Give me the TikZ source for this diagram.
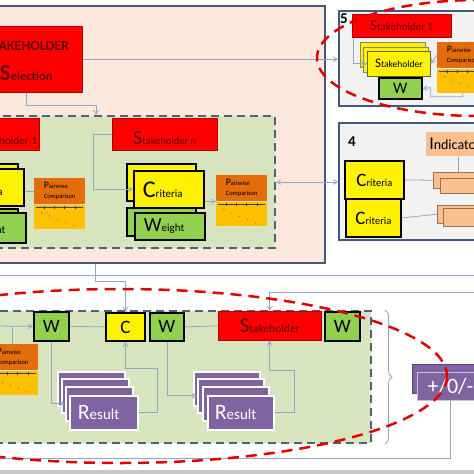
\documentclass[tikz,border=0pt]{standalone}
\usepackage{pgf}
\usepackage{tikz}
\usepackage{fontspec}
\setmainfont{Carlito}
\usetikzlibrary{calc,shadows}
\usetikzlibrary{arrows,backgrounds,shapes}
\usetikzlibrary{decorations.pathreplacing}

\definecolor{peach}{RGB}{252,233,220}
\definecolor{frame}{RGB}{68,88,125}
\definecolor{sage}{RGB}{215,228,189}
\definecolor{dashblue}{RGB}{79,96,121}
\definecolor{lightgrey}{RGB}{242,242,242}
\definecolor{wire}{RGB}{143,168,200}
\definecolor{leaf}{RGB}{146,208,80}
\definecolor{rust}{RGB}{228,108,10}
\definecolor{gold}{RGB}{255,192,0}
\definecolor{apricot}{RGB}{250,192,144}
\definecolor{plum}{RGB}{128,100,162}
\definecolor{maroon}{RGB}{100,0,0}

\newcommand{\fsz}[1]{\fontsize{#1}{\the\baselineskip}\selectfont}

\tikzset{
  box/.style={rectangle,anchor=north west,inner sep=0pt},
  redbox/.style={box,fill=red,draw=red!70!black,line width=0.5pt,text=maroon},
  ycard/.style={box,fill=yellow,draw=black,line width=1.8pt},
  ythin/.style={box,fill=yellow,draw=black!50!yellow,line width=0.6pt},
  gcard/.style={box,fill=leaf,draw=black,line width=1.8pt},
  lefttext/.style={text width=52pt,align=left},
  pwbox/.style={box,fill=rust,minimum height=26pt,align=left,font=\fontsize{6.5}{10}\selectfont},
  chart/.style={box,fill=gold,minimum height=24pt},
  rcard/.style={box,fill=plum,draw=white,line width=1.5pt,text=white,
    drop shadow={opacity=0.25,shadow xshift=1pt,shadow yshift=-1pt}},
  panel/.style={box,fill=lightgrey,draw=frame,line width=1.5pt},
  dashbox/.style={box,fill=sage,draw=dashblue,line width=2pt,dash pattern=on 8pt off 5pt},
  apbox/.style={box,fill=apricot,draw=apricot!60!black,line width=0.5pt},
  link/.style={draw=wire,line width=0.8pt},
  redloop/.style={draw=red!90!black,line width=2.5pt,dash pattern=on 11pt off 7pt}
}

% orange pairwise box with its little chart below
\newcommand{\pwcomp}[3]{%
  \node [pwbox,minimum width=#3pt] (#1) at #2 {{\fsz{10}P}airwise\\Comparison};
  \node [chart,minimum width=#3pt] (#1c) at (#1.south west) {};
  \draw [black!75,line width=0.7pt] ($(#1c.north west)+(2,3)$) -- ($(#1c.north east)+(-2,3)$);
  \foreach \k in {1,...,4}
    \draw [black!75,line width=0.4pt] ($(#1c.north west)+(\k*#3/5,1.5)$) -- ++(0,3);
  \foreach \k in {1,...,5}
    \fill [black!50] ($(#1c.north west)+(\k*#3/6.5,5+\k*3.3)$) circle (0.7pt);
}

\begin{document}
\begin{tikzpicture}[x=1pt,y=-1pt,>=angle 60]
    \useasboundingbox (0,0) rectangle (474,474);
    \clip (0,0) rectangle (474,474);
    \fill [white] (0,0) rectangle (474,474);
    \fill [black!22] (0,470) rectangle (474,474);

    % upper part: stakeholder selection
    \node [box,fill=peach,draw=frame,line width=1.5pt,minimum width=458pt,minimum height=257pt] (pe) at (-134,5) {};
    \node [redbox,minimum width=112pt,minimum height=66pt,align=center,font=\fontsize{10}{30}\selectfont\bfseries] (1) at (-30,26) {
      {\fsz{20}S}{\fsz{14}TAKEHOLDER}\\{\fsz{23}S}{\fsz{12.5}election}
    };
    \node [dashbox,minimum width=358pt,minimum height=132pt] (2) at (-84,115) {};
    \node [redbox,minimum width=105pt,minimum height=32pt,text width=101pt,align=right,text height=21pt,text depth=0pt] (s1) at (-66,118) {{\fsz{20}S}{\fsz{11}takeholder 1}};
    \node [redbox,minimum width=105pt,minimum height=32pt,text height=21pt,text depth=0pt] (sn) at (112,118) {{\fsz{20}S}{\fsz{10.5}takeholder n}};

    \node [ycard,minimum width=70pt,minimum height=37pt] (clb) at (-53,163) {};
    \node [ycard,lefttext,minimum width=70pt,minimum height=37pt] (clf) at (-47,168) {{\fsz{24}C}{\fsz{11}riteria}};
    \node [gcard,minimum width=70pt,minimum height=30pt] (wlb) at (-53,208) {};
    \node [gcard,lefttext,minimum width=70pt,minimum height=30pt] (wlf) at (-45,212) {{\fsz{20}W}{\fsz{11}eight}};
    \pwcomp{p1}{(34,178)}{51}

    \node [ycard,minimum width=69pt,minimum height=37pt] (crb) at (126,163) {};
    \node [ycard,lefttext,minimum width=70pt,minimum height=37pt] (crf) at (133,170) {{\fsz{24}C}{\fsz{11}riteria}};
    \node [gcard,minimum width=69pt,minimum height=28pt] (wrb) at (126,207) {};
    \node [gcard,lefttext,minimum width=70pt,minimum height=27pt] (wrf) at (134,212) {{\fsz{20}W}{\fsz{11}eight}};
    \pwcomp{p2}{(216,175)}{51}

    % panel 5
    \node [panel,minimum width=152pt,minimum height=95pt] (5) at (338,10) {};
    \node [box,font=\bfseries\fsz{15}] (n5) at (340,14) {5};
    \node [redbox,minimum width=99pt,minimum height=23pt] (s51) at (352,14) {{\fsz{15}S}{\fsz{11}takeholder 1}};
    \node [ythin,minimum width=65pt,minimum height=25pt] (y5a) at (360,42) {};
    \node [ythin,minimum width=65pt,minimum height=25pt] (y5b) at (363,47) {};
    \node [ythin,draw=black!70!yellow,minimum width=63pt,minimum height=25pt] (y5f) at (367,51) {{\fsz{13}S}{\fsz{9.5}takeholder}};
    \node [gcard,line width=1.5pt,minimum width=43pt,minimum height=21pt] (w5) at (378,77) {\fsz{16}W};
    \pwcomp{p5}{(437,42)}{51}

    % panel 4
    \node [panel,minimum width=152pt,minimum height=117pt] (4) at (338,122) {};
    \node [box,font=\bfseries\fsz{15}] (n4) at (348,137) {4};
    \node [ycard,minimum width=59pt,minimum height=38pt] (c41) at (344,160) {{\fsz{19}C}{\fsz{10.5}riteria}};
    \node [ycard,minimum width=55pt,minimum height=38pt] (c42) at (345,198) {{\fsz{19}C}{\fsz{10.5}riteria}};
    \node [apbox,draw=none,minimum width=64pt,minimum height=24pt,text width=58pt,align=left] (ind) at (426,132) {{\fsz{18}I}{\fsz{14}ndicators}};
    \node [apbox,minimum width=60pt,minimum height=16pt] (i1b) at (433,172) {};
    \node [apbox,minimum width=60pt,minimum height=15pt] (i1f) at (440,178) {};
    \node [apbox,minimum width=60pt,minimum height=18pt] (i2b) at (437,205) {};
    \node [apbox,minimum width=60pt,minimum height=18pt] (i2f) at (443,208) {};

    % lower part: aggregation
    \coordinate (h1) at (-5,275);
    \coordinate (h2) at (480,275);
    \coordinate (l1) at (-5,326);
    \coordinate (l2) at (-5,458);
    \coordinate (l3) at (480,292);
    \draw [link] (h1) -- (h2);

    \node [dashbox,minimum width=454pt,minimum height=132pt] (6) at (-84,310) {};
    \pwcomp{p4}{(-13,344)}{51}
    \node [gcard,minimum width=35pt,minimum height=29pt] (w1) at (33,311) {\fsz{19}W};
    \node [ycard,minimum width=39pt,minimum height=28pt] (cb) at (105,312) {\fsz{19}C};
    \node [gcard,minimum width=34pt,minimum height=28pt] (w2) at (149,312) {\fsz{19}W};
    \node [redbox,minimum width=103pt,minimum height=29pt] (sb) at (218,311) {{\fsz{21}S}{\fsz{11.5}takeholder}};
    \node [gcard,minimum width=35pt,minimum height=29pt] (w3) at (324,311) {\fsz{19}W};

    \node [rcard,minimum width=67pt,minimum height=34pt] (r11) at (57,371) {};
    \node [rcard,minimum width=67pt,minimum height=34pt] (r12) at (61,378) {};
    \node [rcard,minimum width=67pt,minimum height=34pt] (r13) at (65,386) {};
    \node [rcard,lefttext,minimum width=68pt,minimum height=34pt] (r14) at (69,395) {{\fsz{22}R}{\fsz{15}esult}};
    \node [rcard,minimum width=66pt,minimum height=34pt] (r21) at (193,371) {};
    \node [rcard,minimum width=66pt,minimum height=34pt] (r22) at (197,378) {};
    \node [rcard,minimum width=66pt,minimum height=34pt] (r23) at (202,386) {};
    \node [rcard,lefttext,minimum width=66pt,minimum height=34pt] (r24) at (207,395) {{\fsz{22}R}{\fsz{15}esult}};

    \node [box,fill=plum,draw=plum!70!black,line width=1pt,minimum width=68pt,minimum height=29pt] (pmb) at (412,364) {};
    \node [box,fill=plum,draw=white!60!plum,line width=1pt,minimum width=66pt,minimum height=28pt,text=white] (pmf) at (417,372) {\fsz{22}+/0/-};

    % connectors
    \draw [link,->] (1.east) -- (1.east -| 5.west);
    \draw [link,->] (1.south) -- ++(0,13) -| (2.north);
    \draw [link,->] (sn.west) -- ++(-19,0) |- (crf.west);
    \draw [link] (p1.west) -- (p1.west -| clf.east);
    \draw [link,->] (crf.east |- p2.south west) -- (p2.south west);
    \draw [link,<->] (2.east) -- (2.east -| 4.west);
    \draw [link,->] ([xshift=1pt]s51.south west) |- (y5f.west);
    \draw [link,->] (p5.west) -- (y5f.east);
    \draw [link,->] (p5c.south) -- ++(0,4) -| ++(-32,-9) -- (w5.east);
    \draw [link] (ind.south) -- (ind.south |- i1b.north);
    \draw [link] (c41.east) -- (i1b.west);
    \draw [link] (c42.east) -- (i2b.west);

    \draw [link,->] (pe.south) -- ++(0,18) -| (cb.north);
    \draw [link,->] (l1) -- (w1.west);
    \draw [link] (p4.north) -- (p4.north |- w1.west);
    \draw [link] (w1.east) -- (cb.west);
    \draw [link] (w2.east) -- (sb.west);
    \draw [link,->] (w1.south) |- (r13.west);
    \draw [link,->] (r14.east) -| ++(19,-44) -| (cb.south);
    \draw [link,->] (w2.south) |- (r22.west);
    \draw [link,->] (r24.east) -| ++(20,-42) -| (sb.south);
    \draw [link,->] (l3) -| (sb.north);
    \draw [link] (pmf.south) |- (l2);
    \draw [link,decorate,decoration={brace,amplitude=7pt}] ([xshift=13pt]6.north east) -- ([xshift=13pt]6.south east);

    % focus loops
    \draw [redloop] (478,58) ellipse [x radius=161, y radius=58];
    \draw [redloop] (120,376) ellipse [x radius=327, y radius=87];
\end{tikzpicture}
\end{document}
